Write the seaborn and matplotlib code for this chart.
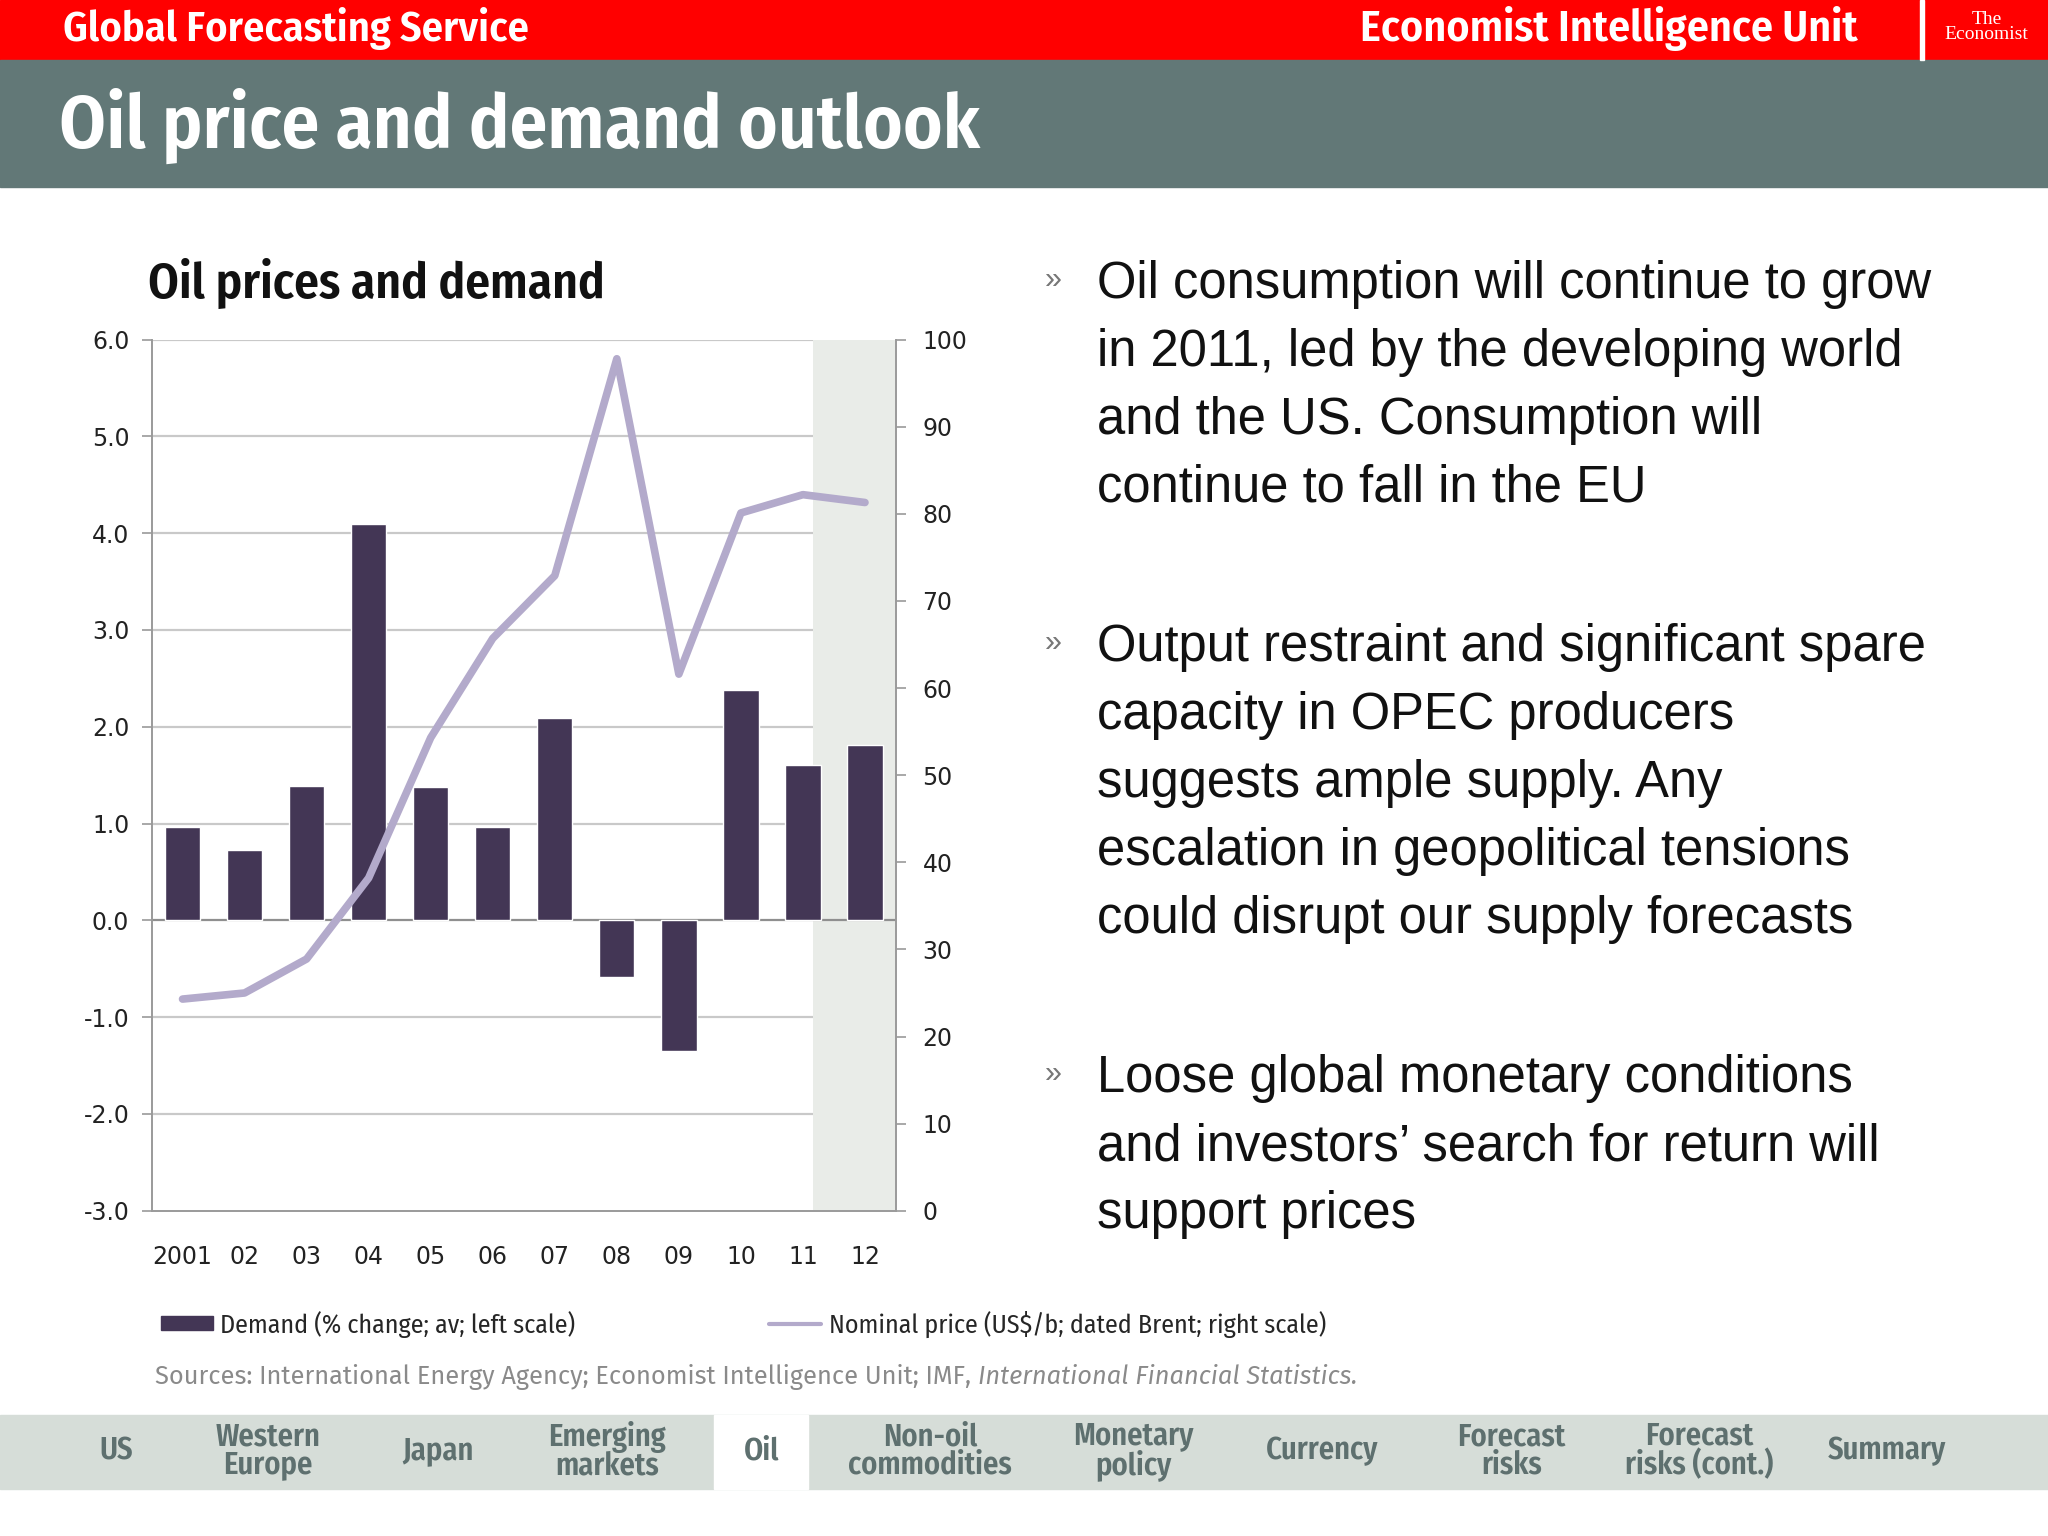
import numpy as np
import pandas as pd
import matplotlib
matplotlib.use("Agg")
import matplotlib.pyplot as plt
from matplotlib.patches import Rectangle
from matplotlib.lines import Line2D
import seaborn as sns

# data
years = ["2001", "02", "03", "04", "05", "06", "07", "08", "09", "10", "11", "12"]
demand = [0.96, 0.73, 1.39, 4.09, 1.38, 0.96, 2.09, -0.59, -1.35, 2.38, 1.61, 1.81]
price = [24.3, 25.0, 28.9, 38.2, 54.3, 65.7, 72.9, 97.8, 61.6, 80.1, 82.2, 81.3]
left_ticks = [-3, -2, -1, 0, 1, 2, 3, 4, 5, 6]
right_ticks = [0, 10, 20, 30, 40, 50, 60, 70, 80, 90, 100]

nav_labels = ["US", "Western\nEurope", "Japan", "Emerging\nmarkets", "Oil",
              "Non-oil\ncommodities", "Monetary\npolicy", "Currency",
              "Forecast\nrisks", "Forecast\nrisks (cont.)", "Summary"]
nav_x = [89, 205, 335, 465, 583, 712, 868, 1012, 1157, 1301, 1445]

bullets = [
    ["Oil consumption will continue to grow",
     "in 2011, led by the developing world",
     "and the US. Consumption will",
     "continue to fall in the EU"],
    ["Output restraint and significant spare",
     "capacity in OPEC producers",
     "suggests ample supply. Any",
     "escalation in geopolitical tensions",
     "could disrupt our supply forecasts"],
    ["Loose global monetary conditions",
     "and investors\u2019 search for return will",
     "support prices"],
]
bullet_y = [218, 496, 826]

BAR = "#433655"
LINE = "#b3aacb"
GRID = "#c9c9c9"
COND = ["Fira Sans Condensed", "PT Sans Narrow", "Roboto Condensed", "DejaVu Sans"]
SANS = ["Fira Sans", "Fira Sans Condensed", "DejaVu Sans"]
ARIAL = ["Liberation Sans", "DejaVu Sans"]

sns.set_theme(style="white")
plt.rcParams["font.family"] = ["DejaVu Sans"]

W, H = 1568, 1176  # layout measured in these units
def fx(x):
    return x / W
def fy(y):
    return 1 - y / H

fig = plt.figure(figsize=(20.48, 15.36), dpi=100)
fig.patch.set_facecolor("white")

# header bands
fig.patches.append(Rectangle((0, fy(46)), 1, 46 / H, transform=fig.transFigure,
                             color="#ff0000", zorder=0))
fig.patches.append(Rectangle((0, fy(143)), 1, 97 / H, transform=fig.transFigure,
                             color="#627877", zorder=0))
fig.patches.append(Rectangle((fx(1470), fy(46)), 3 / W, 46 / H, transform=fig.transFigure,
                             color="white", zorder=1))
fig.text(fx(48), fy(22), "Global Forecasting Service", color="white", fontsize=30.5,
         fontweight=600, family=COND, va="center", ha="left")
fig.text(fx(1422), fy(22), "Economist Intelligence Unit", color="white", fontsize=31.5,
         fontweight=600, family=COND, va="center", ha="right")
fig.text(fx(1521), fy(21), "The\nEconomist", color="white", fontsize=14,
         family=["Liberation Serif", "DejaVu Serif"], va="center", ha="center",
         linespacing=0.85)
fig.text(fx(45), fy(96), "Oil price and demand outlook", color="white", fontsize=54,
         fontweight=600, family=COND, va="center", ha="left")

# chart
ax = fig.add_axes([fx(116), fy(927), (686 - 116) / W, (927 - 260) / H])
ax.set_facecolor("none")
ax.axvspan(10.17, 11.5, color="#e9ece8", zorder=1, lw=0)
for t in left_ticks[1:]:
    if t != 0:
        ax.axhline(t, color=GRID, lw=1.6, zorder=0.5)

df = pd.DataFrame({"year": years, "demand": demand, "price": price})
sns.barplot(data=df, x="year", y="demand", color=BAR, saturation=1, width=0.57,
            ax=ax, zorder=3)
ax.axhline(0, color="#8f8f8f", lw=1.6, zorder=2)

ax.set_xlim(-0.5, 11.5)
ax.set_ylim(-3, 6)
ax.set_yticks(left_ticks)
ax.set_yticklabels([f"{t:.1f}" for t in left_ticks])
ax.set_xlabel("")
ax.set_ylabel("")
ax.tick_params(axis="y", which="both", left=True, length=7, width=1.2, color="#999999",
               pad=9, labelsize=17, labelcolor="#222222")
ax.tick_params(axis="x", length=0, pad=25, labelsize=17, labelcolor="#222222")
for s in ["top", "right"]:
    ax.spines[s].set_visible(False)
for s in ["left", "bottom"]:
    ax.spines[s].set_color("#9a9a9a")
    ax.spines[s].set_linewidth(1.4)

ax2 = ax.twinx()
sns.lineplot(x=np.arange(len(years)), y=price, ax=ax2, color=LINE, lw=5.5, zorder=4)
ax2.set_ylim(0, 100)
ax2.set_xlim(-0.5, 11.5)
ax2.set_yticks(right_ticks)
ax2.tick_params(axis="y", right=True, length=7, width=1.2, color="#999999", pad=12,
                labelsize=17, labelcolor="#222222")
for s in ["top", "left", "bottom"]:
    ax2.spines[s].set_visible(False)
ax2.spines["right"].set_color("#9a9a9a")
ax2.spines["right"].set_linewidth(1.4)

fig.text(fx(113), fy(217), "Oil prices and demand", fontsize=35.5, fontweight=600,
         family=COND, va="center", ha="left", color="#111111")

# legend
bar_handle = Rectangle((0, 0), 1, 1, color=BAR)
line_handle = Line2D([], [], color=LINE, lw=3)
fig.legend(handles=[bar_handle], labels=["Demand (% change; av; left scale)"],
           loc="center left", bbox_to_anchor=(fx(123), fy(1014)), frameon=False,
           handlelength=2.0, handleheight=0.45, handletextpad=0.3,
           prop={"family": COND, "size": 18.7}, borderpad=0, borderaxespad=0)
fig.legend(handles=[line_handle],
           labels=["Nominal price (US$/b; dated Brent; right scale)"],
           loc="center left", bbox_to_anchor=(fx(589), fy(1014)), frameon=False,
           handlelength=2.0, handletextpad=0.3,
           prop={"family": COND, "size": 18.7}, borderpad=0, borderaxespad=0)

src = fig.text(fx(119), fy(1054), "Sources: International Energy Agency; Economist "
               "Intelligence Unit; IMF, ", fontsize=18.3, family=SANS, color="#8a8a8a",
               va="center", ha="left")
fig.canvas.draw()
bb = src.get_window_extent(fig.canvas.get_renderer())
fig.text(bb.x1 / fig.bbox.width, fy(1054), "International Financial Statistics.",
         fontsize=18.3, family=SANS, style="italic", color="#8a8a8a",
         va="center", ha="left")

# bullets
for lines, y0 in zip(bullets, bullet_y):
    fig.text(fx(800), fy(y0 - 4), "\u00bb", fontsize=22, color="#777777",
             family=ARIAL, va="center", ha="left")
    for i, line in enumerate(lines):
        fig.text(fx(840), fy(y0 + 52 * i), line, fontsize=36.5, family=ARIAL,
                 color="#111111", va="center", ha="left")

# navigation bar
fig.patches.append(Rectangle((0, fy(1140)), 1, 57 / H, transform=fig.transFigure,
                             color="#d6ddd8", zorder=0))
fig.patches.append(Rectangle((fx(547), fy(1140)), 72 / W, 57 / H,
                             transform=fig.transFigure, color="white", zorder=0.5))
for lab, x in zip(nav_labels, nav_x):
    fig.text(fx(x), fy(1111), lab, fontsize=22, fontweight=600, family=COND,
             color="#5e706f", va="center", ha="center", linespacing=0.9)

fig.savefig("out.png", dpi=100)
